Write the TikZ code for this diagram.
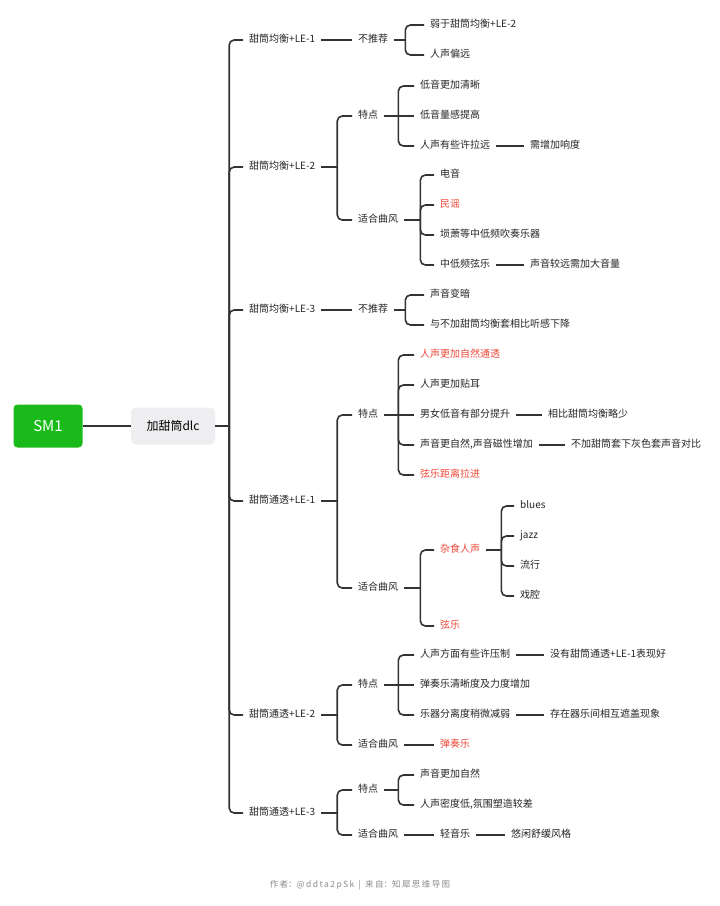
\documentclass[tikz,border=0pt]{standalone}
\usepackage{fontspec}
\setmainfont{Noto Sans CJK SC}
\definecolor{rd}{HTML}{EE4A3A}
\begin{document}
\begin{tikzpicture}[x=1pt,y=-1pt,
  t/.style={anchor=west,inner sep=0pt,text height=7.5pt,text depth=2pt,font=\fontsize{10}{12}\selectfont,text=black!85},
  r/.style={t,text=rd},
  ln/.style={line width=1.6pt,draw=black!80}]
\newcommand\lk[3]{\draw[ln] ([xshift=6pt]#1.east) -- ([xshift=#3]#1.east);
  \draw[ln,rounded corners=5pt] ([xshift=#3]#1.east) |- ([xshift=-6pt]#2.west);}
\newcommand\sln[2]{\draw[ln] ([xshift=6pt]#1.east) -- ([xshift=-6pt]#2.west);}
\useasboundingbox (0,0) rectangle (720,906);
\fill[white] (0,0) rectangle (720,906);
\node[fill=green!70!black!90,rounded corners=4pt,minimum width=69pt,minimum height=43pt,text=white,font=\fontsize{15}{17}\selectfont] (sm) at (48,426) {SM1};
\node[fill=blue!10!gray!12,rounded corners=5pt,minimum width=84pt,minimum height=37pt,font=\fontsize{12}{14}\selectfont] (dlc) at (173,426) {加甜筒dlc};
\draw[ln] (sm.east) -- (dlc.west);
% level 1
\node[t] (a1) at (249,40) {甜筒均衡+LE-1};
\node[t] (a2) at (249,167) {甜筒均衡+LE-2};
\node[t] (a3) at (249,310) {甜筒均衡+LE-3};
\node[t] (a4) at (249,501) {甜筒通透+LE-1};
\node[t] (a5) at (249,715) {甜筒通透+LE-2};
\node[t] (a6) at (249,813) {甜筒通透+LE-3};
\draw[ln] (dlc.east) -- ([xshift=14pt]dlc.east);
\foreach \c in {a1,a2,a3,a4,a5,a6}{\draw[ln,rounded corners=5pt] ([xshift=14pt]dlc.east) |- ([xshift=-6pt]\c.west);}
% A1
\node[t] (b1) at (358,40) {不推荐};
\sln{a1}{b1}
\node[t] (b1a) at (430,25) {弱于甜筒均衡+LE-2};
\node[t] (b1b) at (430,55) {人声偏远};
\lk{b1}{b1a}{17pt}\lk{b1}{b1b}{17pt}
% A2
\node[t] (b2) at (358,116) {特点};
\node[t] (b3) at (358,220) {适合曲风};
\lk{a2}{b2}{22pt}\lk{a2}{b3}{22pt}
\node[t] (c1) at (420,86) {低音更加清晰};
\node[t] (c2) at (420,116) {低音量感提高};
\node[t] (c3) at (420,146) {人声有些许拉远};
\lk{b2}{c1}{20pt}\lk{b2}{c3}{20pt}\sln{b2}{c2}
\node[t] (c3a) at (530,146) {需增加响度};
\sln{c3}{c3a}
\node[t] (d1) at (440,175) {电音};
\node[r] (d2) at (440,205) {民谣};
\node[t] (d3) at (440,235) {埙萧等中低频吹奏乐器};
\node[t] (d4) at (440,265) {中低频弦乐};
\lk{b3}{d1}{22pt}\lk{b3}{d2}{22pt}\lk{b3}{d3}{22pt}\lk{b3}{d4}{22pt}
\node[t] (d4a) at (530,265) {声音较远需加大音量};
\sln{d4}{d4a}
% A3
\node[t] (b4) at (358,310) {不推荐};
\sln{a3}{b4}
\node[t] (e1) at (430,295) {声音变暗};
\node[t] (e2) at (430,325) {与不加甜筒均衡套相比听感下降};
\lk{b4}{e1}{17pt}\lk{b4}{e2}{17pt}
% A4
\node[t] (b5) at (358,415) {特点};
\node[t] (b6) at (358,588) {适合曲风};
\lk{a4}{b5}{22pt}\lk{a4}{b6}{22pt}
\node[r] (f1) at (420,355) {人声更加自然通透};
\node[t] (f2) at (420,385) {人声更加贴耳};
\node[t] (f3) at (420,415) {男女低音有部分提升};
\node[t] (f4) at (420,445) {声音更自然,声音磁性增加};
\node[r] (f5) at (420,475) {弦乐距离拉进};
\foreach \c in {f1,f2,f4,f5}{\lk{b5}{\c}{20pt}}
\sln{b5}{f3}
\node[t] (f3a) at (548,415) {相比甜筒均衡略少};
\sln{f3}{f3a}
\node[t] (f4a) at (571,445) {不加甜筒套下灰色套声音对比};
\sln{f4}{f4a}
\node[r] (g1) at (440,550) {杂食人声};
\node[r] (g2) at (440,626) {弦乐};
\lk{b6}{g1}{22pt}\lk{b6}{g2}{22pt}
\node[t] (h1) at (520,506) {blues};
\node[t] (h2) at (520,536) {jazz};
\node[t] (h3) at (520,566) {流行};
\node[t] (h4) at (520,596) {戏腔};
\foreach \c in {h1,h2,h3,h4}{\lk{g1}{\c}{21pt}}
% A5
\node[t] (b7) at (358,685) {特点};
\node[t] (b8) at (358,745) {适合曲风};
\lk{a5}{b7}{22pt}\lk{a5}{b8}{22pt}
\node[t] (i1) at (420,655) {人声方面有些许压制};
\node[t] (i2) at (420,685) {弹奏乐清晰度及力度增加};
\node[t] (i3) at (420,715) {乐器分离度稍微减弱};
\lk{b7}{i1}{20pt}\lk{b7}{i3}{20pt}\sln{b7}{i2}
\node[t] (i1a) at (550,655) {没有甜筒通透+LE-1表现好};
\sln{i1}{i1a}
\node[t] (i3a) at (550,715) {存在器乐间相互遮盖现象};
\sln{i3}{i3a}
\node[r] (j1) at (440,745) {弹奏乐};
\sln{b8}{j1}
% A6
\node[t] (b9) at (358,790) {特点};
\node[t] (b10) at (358,835) {适合曲风};
\lk{a6}{b9}{22pt}\lk{a6}{b10}{22pt}
\node[t] (k1) at (420,775) {声音更加自然};
\node[t] (k2) at (420,805) {人声密度低,氛围塑造较差};
\lk{b9}{k1}{20pt}\lk{b9}{k2}{20pt}
\node[t] (l1) at (440,835) {轻音乐};
\sln{b10}{l1}
\node[t] (l2) at (511,835) {悠闲舒缓风格};
\sln{l1}{l2}
\node[font=\fontsize{8.5}{10}\selectfont,text=black!45] (ft) at (360,885) {作\,者：@\,d\,d\,t\,a\,2\,p\,S\,k \;|\; 来\,自：知\,犀\,思\,维\,导\,图};
\end{tikzpicture}
\end{document}
